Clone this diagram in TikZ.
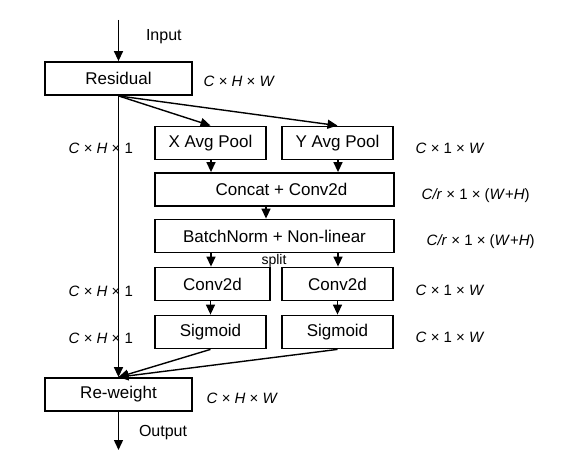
\documentclass[tikz,border=0pt]{standalone}
\usepackage{fontspec}
\setmainfont{Liberation Sans}
\usetikzlibrary{arrows.meta}
\newcommand{\shp}[3]{\textit{#1} × #2 × #3}

\begin{document}
\begin{tikzpicture}[x=1pt, y=-1pt, >={Triangle[length=10pt, width=9pt]}, line width=1.4pt,
    blk/.style={draw, line width=1.8pt, minimum height=33pt, inner sep=0pt, font=\fontsize{17}{19}\selectfont},
    shape lbl/.style={anchor=west, inner sep=0pt, font=\fontsize{15}{17}\selectfont}]
      \useasboundingbox (0,0) rectangle (576,460);
      % dimension labels (under the lines)
      \node[shape lbl] (d0) at (203, 81) {\shp{C}{\textit{H}}{\textit{W}}};
      \node[shape lbl] (d1) at (68, 148) {\shp{C}{\textit{H}}{1}};
      \node[shape lbl] (d2) at (415, 148) {\shp{C}{1}{\textit{W}}};
      \node[shape lbl] (d3) at (421, 196) {\shp{C/r}{1}{(\textit{W}+\textit{H})}};
      \node[shape lbl] (d4) at (426, 242) {\shp{C/r}{1}{(\textit{W}+\textit{H})}};
      \node[shape lbl] (d5) at (68, 291) {\shp{C}{\textit{H}}{1}};
      \node[shape lbl] (d6) at (415, 290) {\shp{C}{1}{\textit{W}}};
      \node[shape lbl] (d7) at (68, 338) {\shp{C}{\textit{H}}{1}};
      \node[shape lbl] (d8) at (415, 337) {\shp{C}{1}{\textit{W}}};
      \node[shape lbl] (d9) at (206, 398) {\shp{C}{\textit{H}}{\textit{W}}};
      % blocks
      \node[blk, minimum width=147pt] (res) at (118.5, 78.5) {Residual};
      \node[blk, minimum width=111pt] (xpool) at (210.5, 143) {X Avg Pool};
      \node[blk, minimum width=111pt] (ypool) at (337.5, 143) {Y Avg Pool};
      \node[blk, minimum width=239pt] (cat) at (274.5, 189.5) {\hspace*{14pt}Concat + Conv2d};
      \node[blk, minimum width=239pt] (bn) at (274.5, 236) {BatchNorm + Non-linear};
      \node[blk, minimum width=115pt] (convx) at (212.5, 284) {Conv2d};
      \node[blk, minimum width=111pt] (convy) at (337.5, 284) {Conv2d};
      \node[blk, minimum width=111pt] (sigx) at (210.5, 332) {Sigmoid};
      \node[blk, minimum width=111pt] (sigy) at (337.5, 332) {Sigmoid};
      \node[blk, minimum width=147pt] (rw) at (118.5, 394.5) {Re-weight};
      \node[font=\fontsize{16}{18}\selectfont, anchor=west] (inlbl) at (142, 37) {Input};
      \node[font=\fontsize{16}{18}\selectfont, anchor=west] (outlbl) at (135, 433) {Output};
      \node[font=\fontsize{14}{16}\selectfont, inner sep=0pt] (splt) at (274, 261) {split};
      % connectors
      \coordinate (inp) at (118.5, 20);
      \coordinate (outp) at (118.5, 450);
      \draw[->] (inp) -- (res.north);
      \draw[->] (res.south) -- (rw.north);
      \draw[->] (res.south) -- (xpool.north);
      \draw[->] (res.south) -- (ypool.north);
      \foreach \x in {211, 338} {
        \draw[->] (\x, 0 |- xpool.south) -- (\x, 0 |- cat.north);
        \draw[->] (\x, 0 |- bn.south) -- (\x, 0 |- convy.north);
      }
      \draw[->] (266, 0 |- cat.south) -- (266, 0 |- bn.north);
      \draw[->] (convx.south -| sigx) -- (sigx.north);
      \draw[->] (convy.south) -- (sigy.north);
      \draw[->] (sigx.south) -- (rw.north);
      \draw[->] (sigy.south) -- (rw.north);
      \draw[->] (rw.south) -- (outp);
    \end{tikzpicture}
\end{document}
